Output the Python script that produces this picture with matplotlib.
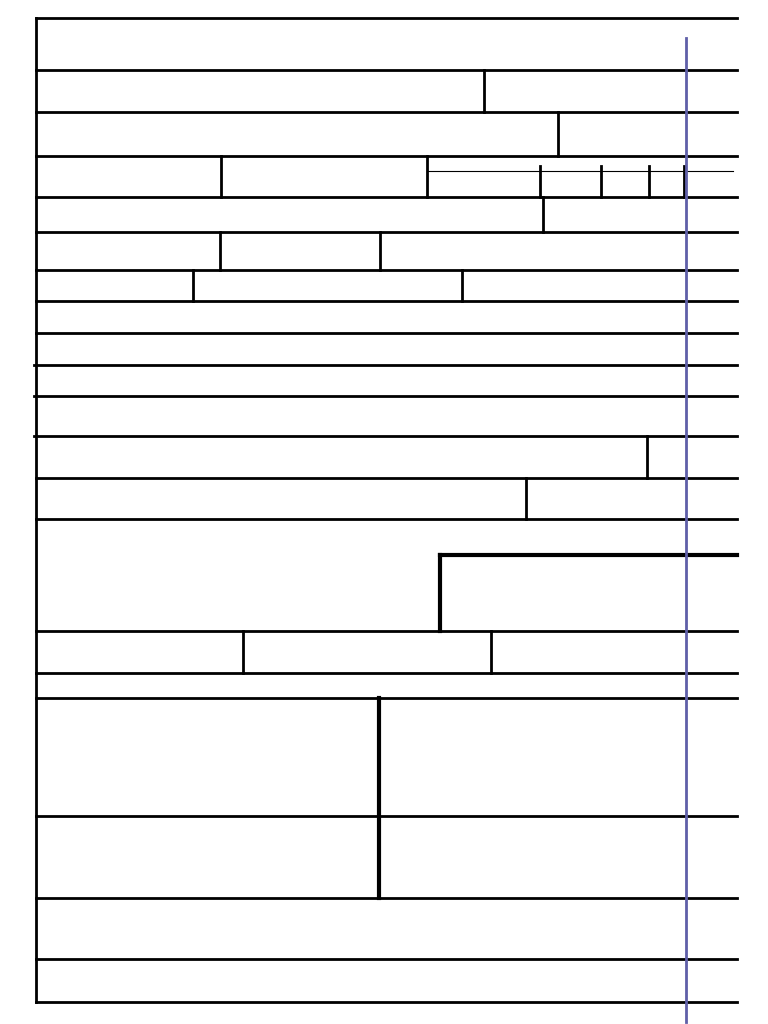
import matplotlib.pyplot as plt

# horizontal rules: y, x_start, x_end, width
h_y = [18, 70, 112, 156, 197, 232, 270, 301, 333, 365, 396, 436, 478, 519, 555, 631, 673, 698, 816, 898, 959, 1002]
h_x0 = [36, 36, 36, 36, 36, 36, 36, 36, 36, 34, 34, 34, 36, 36, 440, 36, 36, 36, 36, 36, 36, 36]
h_x1 = [737] * len(h_y)
h_w = [2, 2, 2, 2, 2, 2, 2, 2, 2, 2, 2, 2, 2, 2, 3, 2, 2, 2, 2, 2, 2, 2]

# vertical ticks: x, y_top, y_bottom, width
v_x = [484, 558, 221, 427, 540, 601, 649, 684, 543, 220, 380, 193, 462, 647, 526, 440, 243, 491, 379]
v_y0 = [70, 112, 156, 156, 166, 166, 166, 166, 197, 232, 232, 270, 270, 436, 478, 555, 631, 631, 698]
v_y1 = [112, 156, 197, 197, 197, 197, 197, 197, 232, 270, 270, 301, 301, 478, 519, 631, 673, 673, 898]
v_w = [2, 2, 2, 2, 2, 2, 2, 2, 2, 2, 2, 2, 2, 2, 2, 3, 2, 2, 3]

fig = plt.figure(figsize=(7.68, 10.24), dpi=100)
ax = fig.add_axes([0, 0, 1, 1])
ax.set_xlim(0, 768)
ax.set_ylim(1024, 0)
ax.axis('off')

for y, a, b, w in zip(h_y, h_x0, h_x1, h_w):
    ax.plot([a, b], [y, y], color='black', lw=w)
for x, a, b, w in zip(v_x, v_y0, v_y1, v_w):
    ax.plot([x, x], [a, b], color='black', lw=w)

ax.plot([36, 36], [18, 1002], color='black', lw=2)
ax.plot([427, 733], [171, 171], color='black', lw=0.8)
ax.plot([686, 686], [38, 1022], color='#5f5fa8', lw=2)

plt.savefig('out.png', dpi=100)
